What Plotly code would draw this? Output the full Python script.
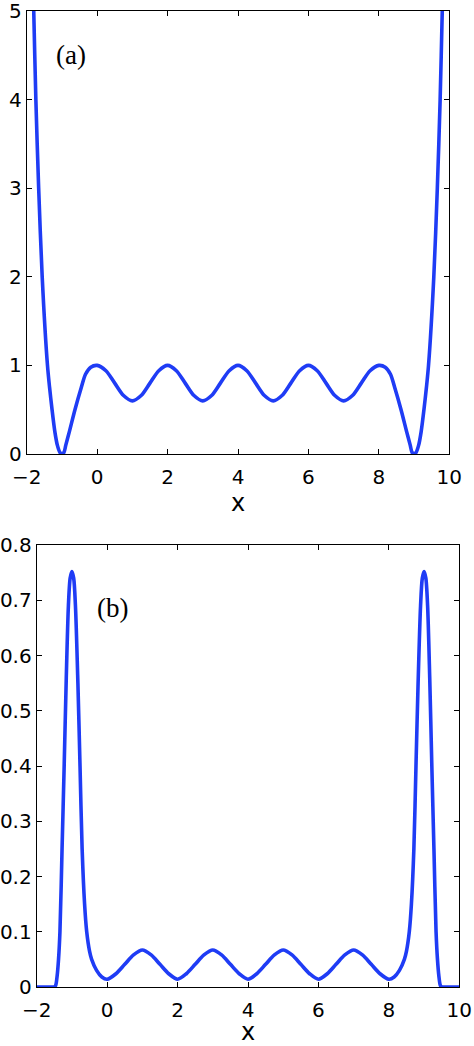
import plotly.graph_objects as go

# ---- panel (a): potential ----
x_a = [-1.90, -1.86, -1.80, -1.74, -1.66, -1.56, -1.41, -1.35, -1.28, -1.20, -1.13, -1.06, -1.00,
       -0.94, -0.89, -0.79, -0.63, -0.45, -0.33, -0.18, 0.00,
       0.25, 0.50, 0.75, 1.00, 1.25, 1.50, 1.75, 2.00,
       2.25, 2.50, 2.75, 3.00, 3.25, 3.50, 3.75, 4.00,
       4.25, 4.50, 4.75, 5.00, 5.25, 5.50, 5.75, 6.00,
       6.25, 6.50, 6.75, 7.00, 7.25, 7.50, 7.75, 8.00,
       8.18, 8.33, 8.45, 8.63, 8.79, 8.89, 8.94, 9.00,
       9.06, 9.13, 9.20, 9.28, 9.35, 9.41, 9.56, 9.66, 9.74, 9.80, 9.86, 9.90]
y_a = [6.8, 6.0, 5.0, 4.0, 3.0, 2.0, 1.0, 0.75, 0.50, 0.25, 0.10, 0.02, 0.00,
       0.02, 0.10, 0.25, 0.50, 0.75, 0.90, 0.98, 1.00,
       0.94, 0.80, 0.66, 0.60, 0.66, 0.80, 0.94, 1.00,
       0.94, 0.80, 0.66, 0.60, 0.66, 0.80, 0.94, 1.00,
       0.94, 0.80, 0.66, 0.60, 0.66, 0.80, 0.94, 1.00,
       0.94, 0.80, 0.66, 0.60, 0.66, 0.80, 0.94, 1.00,
       0.98, 0.90, 0.75, 0.50, 0.25, 0.10, 0.02, 0.00,
       0.02, 0.10, 0.25, 0.50, 0.75, 1.00, 2.0, 3.0, 4.0, 5.0, 6.0, 6.8]

# ---- panel (b): density ----
x_b = [-2.00, -1.75, -1.56, -1.50, -1.46, -1.42, -1.38, -1.34, -1.28, -1.22, -1.16, -1.10, -1.05, -1.00,
       -0.95, -0.90, -0.83, -0.77, -0.71, -0.64, -0.58, -0.50, -0.44, -0.30, -0.15, 0.00,
       0.25, 0.50, 0.75, 1.00, 1.25, 1.50, 1.75, 2.00,
       2.25, 2.50, 2.75, 3.00, 3.25, 3.50, 3.75, 4.00,
       4.25, 4.50, 4.75, 5.00, 5.25, 5.50, 5.75, 6.00,
       6.25, 6.50, 6.75, 7.00, 7.25, 7.50, 7.75, 8.00,
       8.15, 8.30, 8.44, 8.50, 8.58, 8.64, 8.71, 8.77, 8.83, 8.90, 8.95, 9.00,
       9.05, 9.10, 9.16, 9.22, 9.28, 9.34, 9.38, 9.42, 9.46, 9.50, 9.56, 9.75, 10.00]
y_b = [0.0, 0.0, 0.0, 0.0, 0.003, 0.02, 0.05, 0.10, 0.25, 0.40, 0.56, 0.69, 0.74, 0.752,
       0.74, 0.69, 0.55, 0.40, 0.25, 0.15, 0.10, 0.065, 0.05, 0.03, 0.018, 0.014,
       0.024, 0.041, 0.058, 0.067, 0.058, 0.041, 0.024, 0.014,
       0.024, 0.041, 0.058, 0.067, 0.058, 0.041, 0.024, 0.014,
       0.024, 0.041, 0.058, 0.067, 0.058, 0.041, 0.024, 0.014,
       0.024, 0.041, 0.058, 0.067, 0.058, 0.041, 0.024, 0.014,
       0.018, 0.03, 0.05, 0.065, 0.10, 0.15, 0.25, 0.40, 0.55, 0.69, 0.74, 0.752,
       0.74, 0.69, 0.56, 0.40, 0.25, 0.10, 0.05, 0.02, 0.003, 0.0, 0.0, 0.0, 0.0]

x_ticks = [-2, 0, 2, 4, 6, 8, 10]
y_ticks_a = [0, 1, 2, 3, 4, 5]
y_ticks_b = [0, 0.1, 0.2, 0.3, 0.4, 0.5, 0.6, 0.7, 0.8]
y_ticktext_b = ["0", "0.1", "0.2", "0.3", "0.4", "0.5", "0.6", "0.7", "0.8"]
panel_labels = ["(a)", "(b)"]

W, H = 474, 1046


def fx(p):  # screen x pixel -> paper fraction
    return p / W


def fy(p):  # screen y pixel -> paper fraction (from bottom)
    return 1 - p / H


LINE = "#1f3cf5"
tickfont = dict(family="DejaVu Sans", size=20, color="black")
titlefont = dict(family="DejaVu Sans", size=24, color="black")

fig = go.Figure()
fig.add_trace(go.Scatter(x=x_a, y=y_a, mode="lines", line=dict(color=LINE, width=3.6, shape="spline", smoothing=0.8),
                         xaxis="x", yaxis="y", showlegend=False, hoverinfo="skip"))
fig.add_trace(go.Scatter(x=x_b, y=y_b, mode="lines", line=dict(color=LINE, width=3.6, shape="spline", smoothing=0.8),
                         xaxis="x2", yaxis="y2", showlegend=False, hoverinfo="skip"))

common = dict(showline=True, linecolor="black", linewidth=1, mirror="ticks", ticks="inside",
              ticklen=5, tickcolor="black", tickwidth=1, showgrid=False, zeroline=False,
              tickfont=tickfont, automargin=False, ticklabeloverflow="allow")

fig.update_layout(
    template="none",
    width=W, height=H, margin=dict(l=0, r=0, t=0, b=0),
    paper_bgcolor="white", plot_bgcolor="white",
    xaxis=dict(domain=[fx(26.7), fx(449.3)], range=[-2, 10], tickvals=x_ticks, ticklabelstandoff=5,
               anchor="y", title=dict(text="x", font=titlefont, standoff=3), **common),
    yaxis=dict(domain=[fy(454), fy(11)], range=[0, 5], tickvals=y_ticks_a, anchor="x", **common),
    xaxis2=dict(domain=[fx(36.7), fx(459.3)], range=[-2, 10], tickvals=x_ticks, ticklabelstandoff=5,
                anchor="y2", title=dict(text="x", font=titlefont, standoff=7), **common),
    yaxis2=dict(domain=[fy(987), fy(545)], range=[0, 0.8], tickvals=y_ticks_b,
                ticktext=y_ticktext_b, anchor="x2", **common),
    annotations=[
        dict(text=panel_labels[0], x=-0.73, y=4.50, xref="x", yref="y", showarrow=False,
             font=dict(family="Liberation Serif", size=27, color="black")),
        dict(text=panel_labels[1], x=0.14, y=0.686, xref="x2", yref="y2", showarrow=False,
             font=dict(family="Liberation Serif", size=27, color="black")),
    ],
)

# remove the browser's default 8px body margin so the figure fills the window exactly
fig.write_html("out.html", config={"displayModeBar": False},
               post_script="document.body.style.margin='0';document.body.style.overflow='hidden';")
